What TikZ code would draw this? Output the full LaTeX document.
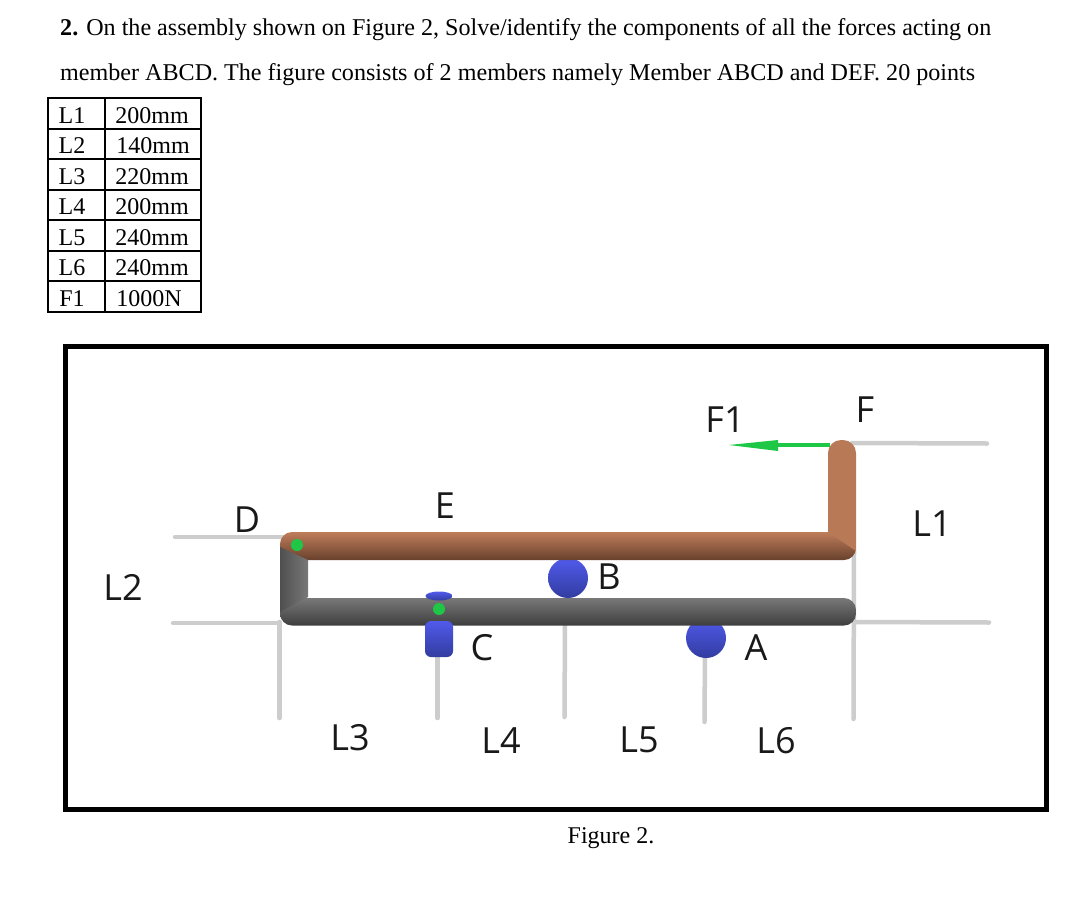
\documentclass[tikz,border=0pt]{standalone}
\usepackage{fontspec}
\setmainfont{Liberation Serif}
\newfontfamily\labelfont{Open Sans}
\usetikzlibrary{calc}
\definecolor{dimgrey}{RGB}{205,205,205}
\definecolor{brtop}{RGB}{190,125,90}
\definecolor{brbot}{RGB}{105,65,45}
\definecolor{gytop}{RGB}{120,120,120}
\definecolor{gybot}{RGB}{62,62,62}
\definecolor{bltop}{RGB}{80,90,235}
\definecolor{blbot}{RGB}{50,60,160}
\definecolor{fgreen}{RGB}{30,200,70}
\tikzset{
  x=1pt,y=-1pt,
  prose/.style={anchor=base west,inner sep=0pt,font=\fontsize{24.1}{30}\selectfont},
  cellt/.style={inner sep=0pt,anchor=base,font=\fontsize{24}{28}\selectfont},
  rowline/.style={draw=black,line width=2pt},
  dimline/.style={draw=dimgrey,line width=4.5pt,line cap=round},
  mark label/.style={inner sep=0pt,font=\labelfont\fontsize{36}{40}\selectfont,text=black!90},
  pindot/.style={circle,inner sep=0pt,minimum size=12pt,fill=fgreen},
  ball/.style={circle,inner sep=0pt,minimum size=40pt,shade,top color=bltop,bottom color=blbot},
}
\begin{document}
\begin{tikzpicture}
\useasboundingbox (0,0) rectangle (1080,916);
\fill[white] (0,0) rectangle (1080,916);
% heading
\node[prose] (line1) at (60,35) {\textbf{2.} On the assembly shown on Figure 2, Solve/identify the components of all the forces acting on};
\node[prose] (line2) at (60,80) {member ABCD. The figure consists of 2 members namely Member ABCD and DEF. 20 points};
% table
\draw[rowline] (48,98) rectangle (201,312);
\draw[rowline] (105,98) -- (105,312);
\foreach \r/\a/\c [count=\i from 0] in {L1/200mm/152,L2/140mm/153,L3/220mm/152,L4/200mm/152,L5/240mm/152,L6/240mm/152,F1/1000N/149}{
  \node[cellt] (k\i) at (72,{123+30.5*\i}) {\r};
  \node[cellt] (v\i) at (\c,{123+30.5*\i}) {\a};
  \ifnum\i>0 \draw[rowline] (48,{98+30.5*\i}) -- (201,{98+30.5*\i}); \fi
}
% frame
\draw[black,line width=5pt] (65,346.5) rectangle (1046.5,809.5);
\node[inner sep=0pt,anchor=base,font=\fontsize{24}{28}\selectfont] (caption) at (611,843) {Figure 2.};
% dimension lines
\coordinate (dA) at (175,537); \coordinate (dB) at (282,537);
\coordinate (dC) at (173,623); \coordinate (dD) at (280,623);
\coordinate (dE) at (279.5,622); \coordinate (dF) at (279.5,718);
\coordinate (dG) at (437.5,650); \coordinate (dH) at (437.5,718);
\coordinate (dI) at (565,625); \coordinate (dJ) at (564.5,717);
\coordinate (dK) at (705,650); \coordinate (dL) at (704.5,722);
\coordinate (dM) at (854,552); \coordinate (dN) at (853.5,719);
\coordinate (dO) at (852,443); \coordinate (dP) at (987,443.5);
\coordinate (dQ) at (854,622); \coordinate (dR) at (989,622.5);
\foreach \p/\q in {dA/dB,dC/dD,dE/dF,dG/dH,dI/dJ,dK/dL,dM/dN,dO/dP,dQ/dR}
  \draw[dimline] (\p) -- (\q);
% balls (behind the lower bar)
\node[ball] (ballB) at (568,578) {};
\node[ball] (ballA) at (706,638) {};
% horizontal bars
\shade[top color=gytop,bottom color=gybot,rounded corners=12pt] (280,598) rectangle (856,625.5);
\shade[top color=brtop,bottom color=brbot,rounded corners=12pt] (280,532) rectangle (856,560);
% grey upright of ABCD, mitred into both bars
\shade[left color=gybot!70!gytop,right color=gytop]
  (280,547) -- (308,560) -- (308,597) -- (280,612) -- cycle;
% brown upright of DEF, mitred into the bar
\fill[brtop!97!black] (828,532) [rounded corners=13pt] -- (828,440) -- (856,440) [sharp corners] -- (856,551) -- cycle;
% pin at C, over the lower bar
\shade[top color=bltop,bottom color=blbot,rounded corners=6pt] (425,621) rectangle (453,657);
\shade[top color=bltop,bottom color=blbot] (439,596) ellipse (13.5 and 4.5);
% force arrow
\coordinate (ftip) at (729,445);
\coordinate (fstart) at (830,445);
\draw[fgreen,line width=3.5pt] (fstart) -- (775,445);
\fill[fgreen] (ftip) -- (778,440) -- (778,451) -- cycle;
% pins
\node[pindot] (pinD) at (297,545) {};
\node[pindot] (pinC) at (439,609) {};
% labels
\node[mark label] (lD) at (247,520) {D};
\node[mark label] (lE) at (445,506) {E};
\node[mark label] (lB) at (609,577) {B};
\node[mark label] (lC) at (482,648) {C};
\node[mark label] (lA) at (756,648) {A};
\node[mark label] (lF1) at (725,420) {F1};
\node[mark label] (lF) at (865,410) {F};
\node[mark label] (lL1) at (932,524) {L1};
\node[mark label] (lL2) at (123,587) {L2};
\node[mark label] (lL3) at (350,738) {L3};
\node[mark label] (lL4) at (501,741) {L4};
\node[mark label] (lL5) at (639,740) {L5};
\node[mark label] (lL6) at (776,741) {L6};
\end{tikzpicture}
\end{document}
